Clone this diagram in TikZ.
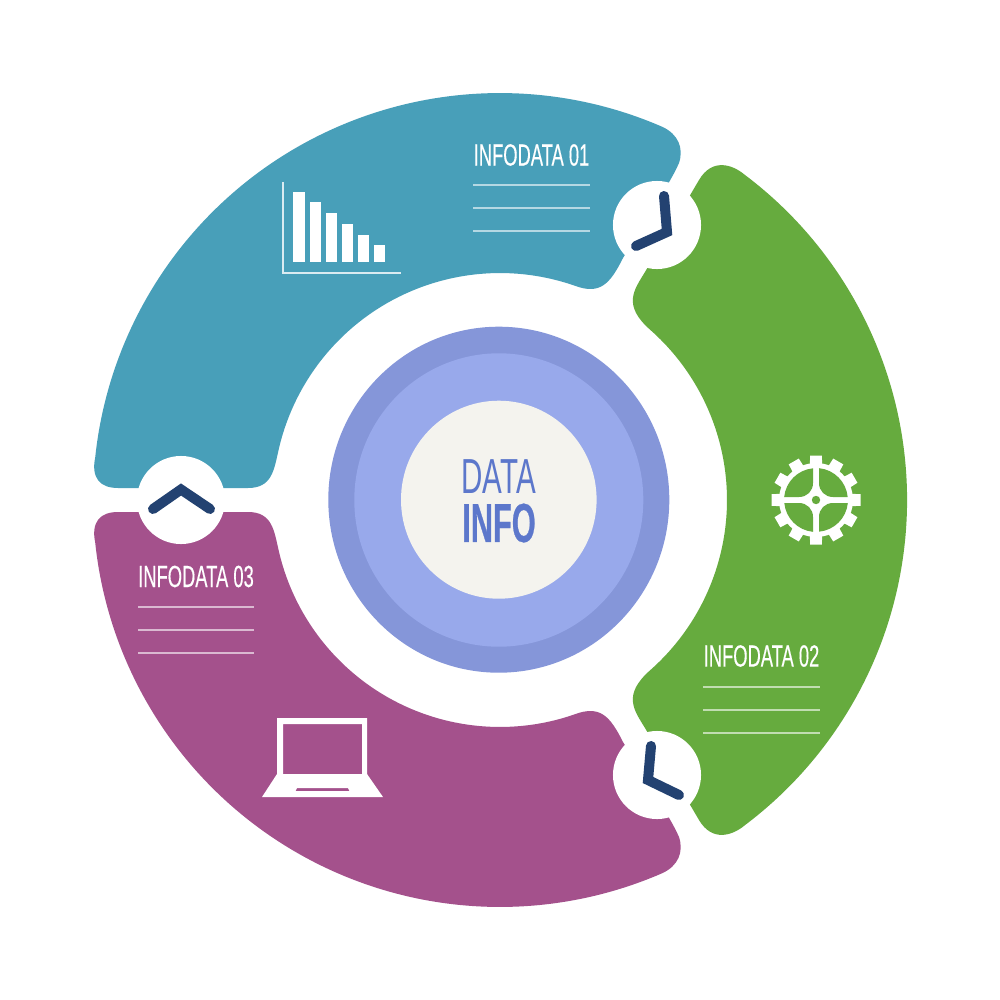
\documentclass[tikz,border=0pt]{standalone}
\usepackage{fontspec}
\setmainfont{Liberation Sans}
\newfontfamily\condfont[FakeStretch=0.6,FakeBold=0.25]{Liberation Sans}
\newfontfamily\thinfont[FakeStretch=0.6]{Liberation Sans}
\newfontfamily\condbold[FakeStretch=0.56,FakeBold=0.5]{Liberation Sans Bold}
\definecolor{tealc}{HTML}{489FB9}
\definecolor{greenc}{HTML}{66AB3E}
\definecolor{purplec}{HTML}{A4518C}
\definecolor{ringa}{HTML}{8596D9}
\definecolor{ringb}{HTML}{98A9EB}
\definecolor{ringc}{HTML}{F4F3EE}
\definecolor{chev}{HTML}{234271}
\definecolor{datac}{HTML}{5C77CB}
\newcommand{\tealshape}{(95.2,457.5) arc[start angle=-174,end angle=-66.5,radius=407]
  .. controls (678,134) and (684,148) .. (679,163)
  .. controls (676,170) and (672,177) .. (668,184)
  -- (623,258)
  .. controls (610,284) and (600,295) .. (575,285.8)
  arc[start angle=-70.7,end angle=-167.3,radius=227]
  .. controls (274,470) and (272,488) .. (248,488)
  -- (118,488)
  .. controls (100,488) and (91,478) .. (95.2,457.5) -- cycle}
\tikzset{
  gap/.style={fill=white,draw=none,circle,minimum size=0.88cm,inner sep=0pt},
  chevron/.style={draw=chev,line width=2.85pt,line cap=round,miter limit=10},
  rule/.style={draw=white,draw opacity=0.6,line width=0.32pt},
  title/.style={text=white,inner sep=0pt,font=\condfont\fontsize{8.7}{10}\selectfont},
  icon/.style={fill=white,draw=none},
}
\begin{document}
\begin{tikzpicture}[x=0.01cm,y=-0.01cm]
\useasboundingbox (0,0) rectangle (1000,1000);
\fill[white] (0,0) rectangle (1000,1000);
% segments
\fill[tealc] \tealshape;
\fill[purplec,yscale=-1,shift={(0,-1000)}] \tealshape;
\fill[greenc] (745,175) arc[start angle=-53,end angle=53,radius=407]
  .. controls (732,836) and (712,842) .. (699,820)
  -- (645,728)
  .. controls (634,710) and (622,695) .. (650.4,670)
  arc[start angle=48.5,end angle=-48.5,radius=227]
  .. controls (622,305) and (634,290) .. (645,272)
  -- (699,180)
  .. controls (712,158) and (732,164) .. (745,175) -- cycle;
% gaps
\node[gap] (gapa) at (657,225) {};
\node[gap] (gapb) at (657,775) {};
\node[gap] (gapc) at (181,500) {};
% chevrons
\draw[chevron] (664,196) -- (667,232) -- (636,246);
\draw[chevron] (651,746) -- (648,780) -- (679,795);
\draw[chevron] (153,509) -- (181,489.5) -- (210,509);
% centre
\fill[ringa] (498.8,499.7) ellipse[x radius=170.5,y radius=173];
\fill[ringb] (498.8,500) ellipse[x radius=144.5,y radius=146.7];
\fill[ringc] (498.8,499.7) ellipse[x radius=97.8,y radius=99];
\node[inner sep=0pt,text=datac,font=\thinfont\fontsize{14}{15}\selectfont] (data) at (498.7,477) {DATA};
\node[inner sep=0pt,text=datac,font=\condbold\fontsize{15.6}{17}\selectfont] (info) at (499,523) {INFO};
% labels
\node[title] (ta) at (531.5,155) {INFODATA 01};
\node[title] (tb) at (761.5,656) {INFODATA 02};
\node[title] (tc) at (196,576.5) {INFODATA 03};
\foreach \y in {185,208,231} \draw[rule] (473,\y) -- (590,\y);
\foreach \y in {687,710,733} \draw[rule] (703,\y) -- (820,\y);
\foreach \y in {607,630,653} \draw[rule] (138,\y) -- (254,\y);
% chart icon
\draw[draw=white,draw opacity=.8,line width=0.4pt] (283,182) -- (283,273) -- (401,273);
\fill[icon] (293,192) rectangle (304.5,262);
\fill[icon] (310,202) rectangle (321,262);
\fill[icon] (326,213) rectangle (337,262);
\fill[icon] (342,224) rectangle (353,262);
\fill[icon] (358,235) rectangle (369,262);
\fill[icon] (374,245) rectangle (385,262);
% laptop icon
\fill[icon,even odd rule] (277,718) rectangle (367,775) (283,724) rectangle (362,774);
\fill[icon,even odd rule] (277,774) -- (367,774) -- (383,797) -- (262,797) -- cycle
  (297,788) -- (348,788) -- (349.5,791) -- (295.5,791) -- cycle;
% gear icon
\begin{scope}[shift={(816,500)}]
  \foreach \a in {0,30,...,330}
    \fill[icon,rotate=\a] (-6.5,28) -- (6.5,28) -- (5.8,44.5) -- (-5.8,44.5) -- cycle;
  \fill[icon] (0,0) circle[radius=37];
  \foreach \a in {0,90,180,270}
    \fill[greenc,rotate=\a] (3,31.7) arc[start angle=84.6,end angle=5.4,radius=32]
      -- (31.8,3) -- (17,3) .. controls (9,3) and (3,9) .. (3,17) -- cycle;
  \fill[greenc] (0,0) circle[radius=4.2];
\end{scope}
\end{tikzpicture}
\end{document}
